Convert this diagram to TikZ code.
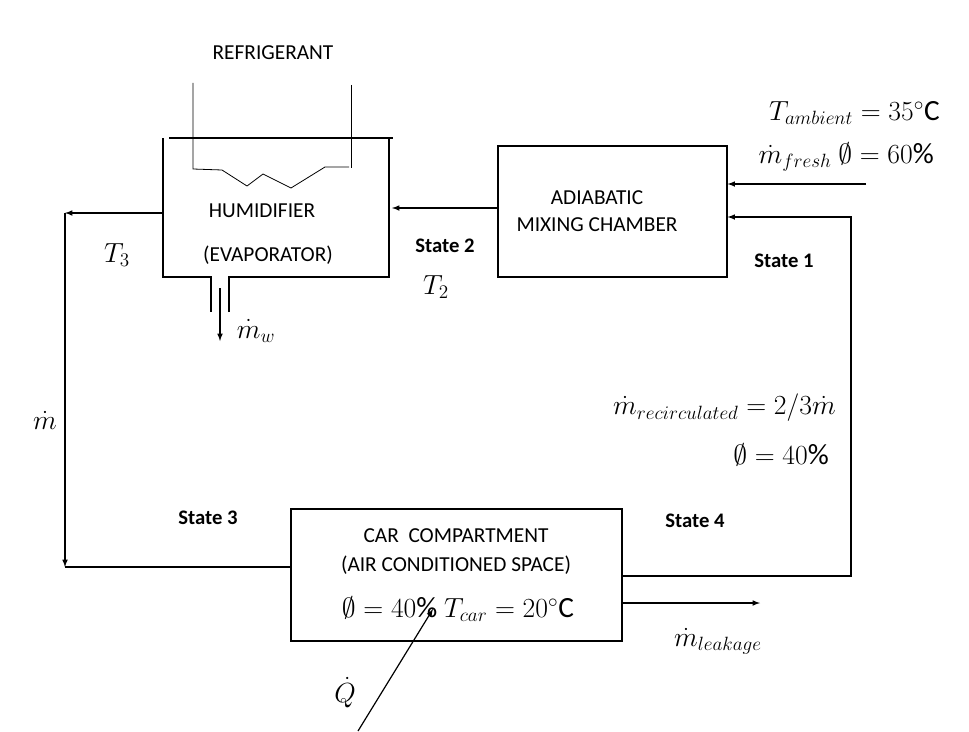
\documentclass[tikz,border=0pt]{standalone}
\usepackage{fontspec}
\setmainfont{Carlito}
\usepackage{amsmath}
\begin{document}
\begin{tikzpicture}[x=0.75pt,y=-0.75pt,
  ln/.style={line width=0.9pt},
  thin/.style={line width=0.6pt},
  ar/.style={ln,-latex},
  lbl/.style={font=\fontsize{16}{18}\selectfont,inner sep=0pt},
  st/.style={font=\fontsize{15.5}{18}\selectfont\bfseries,inner sep=0pt},
  mth/.style={font=\fontsize{22}{24}\selectfont,inner sep=0pt}]
\useasboundingbox (0,0) rectangle (969,731);
% boxes
\node[draw,ln,minimum width=229*0.75pt,minimum height=131*0.75pt,inner sep=0pt] (mix) at (612.5,211.5) {};
\node[draw,ln,minimum width=331*0.75pt,minimum height=132*0.75pt,inner sep=0pt] (car) at (456.5,575) {};
% humidifier
\draw[ln] (169,138) -- (393,138);
\draw[ln] (163,138) -- (163,277) -- (211,277) -- (211,312);
\draw[ln] (229,312) -- (229,277) -- (389,277) -- (389,138);
\draw[thin] (193,83) -- (193,169) -- (222,170) -- (247,186) -- (263,174) -- (291,188) -- (325,167) -- (349,167);
\draw[thin] (351,85) -- (351,168);
\coordinate (wtop) at (220,288);
\coordinate (wbot) at (220,341);
\draw[ar] (wtop) -- (wbot);
% texts
\node[lbl] (refr) at (273,53) {REFRIGERANT};
\node[lbl] (hum) at (262,211) {HUMIDIFIER};
\node[lbl] (evap) at (268,255) {(EVAPORATOR)};
\node[lbl] (mix1) at (597,198) {ADIABATIC};
\node[lbl] (mix2) at (597,225) {MIXING CHAMBER};
\node[lbl] (car1) at (456,536) {CAR\ \ COMPARTMENT};
\node[lbl] (car2) at (456,565) {(AIR CONDITIONED SPACE)};
\node[mth] (car3) at (458,609) {$\emptyset=40\mathrm{\%}\ T_{car}=20^\circ\mathrm{C}$};
% connectors
\coordinate (hr) at (392,208);
\draw[ar] (mix.west |- hr) -- (hr);
\coordinate (fresh) at (866,184);
\draw[ar] (fresh) -- (mix.east |- fresh);
\coordinate (c1) at (851,576);
\coordinate (c2) at (851,217);
\draw[ar] (car.east |- c1) -- (c1) -- (c2) -- (mix.east |- c2);
\coordinate (leak) at (760,603);
\draw[ar] (car.east |- leak) -- (leak);
\coordinate (h1) at (163,213);
\coordinate (h2) at (65,213);
\coordinate (h3) at (65,567);
\draw[ar] (h1) -- (h2);
\draw[ar] (h2) -- (h3);
\draw[ln] (h3) -- (car.west |- h3);
\coordinate (q0) at (358,731);
\coordinate (q1) at (433,609);
\draw[ar] (q0) -- (q1);
% labels
\node[mth] (t3) at (117,255) {$T_3$};
\node[st] (s2) at (445,246) {State 2};
\node[mth] (t2) at (436,287) {$T_2$};
\node[mth] (mw) at (256,331) {$\dot m_w$};
\node[mth] (md) at (45,420) {$\dot m$};
\node[st] (s1) at (784,261) {State 1};
\node[mth,anchor=east] (tamb) at (940,113) {$T_{ambient}=35^\circ\mathrm{C}$};
\node[mth,anchor=east] (mfr) at (934,157) {$\dot m_{fresh}\ \emptyset=60\mathrm{\%}$};
\node[mth,anchor=east] (mrec) at (836,408) {$\dot m_{recirculated}=2/3\dot m$};
\node[mth,anchor=east] (phi) at (829,455) {$\emptyset=40\mathrm{\%}$};
\node[st] (s3) at (208,518) {State 3};
\node[st] (s4) at (695,521) {State 4};
\node[mth] (mleak) at (718,641) {$\dot m_{leakage}$};
\node[mth] (qd) at (345,693) {$\dot Q$};
\end{tikzpicture}
\end{document}
